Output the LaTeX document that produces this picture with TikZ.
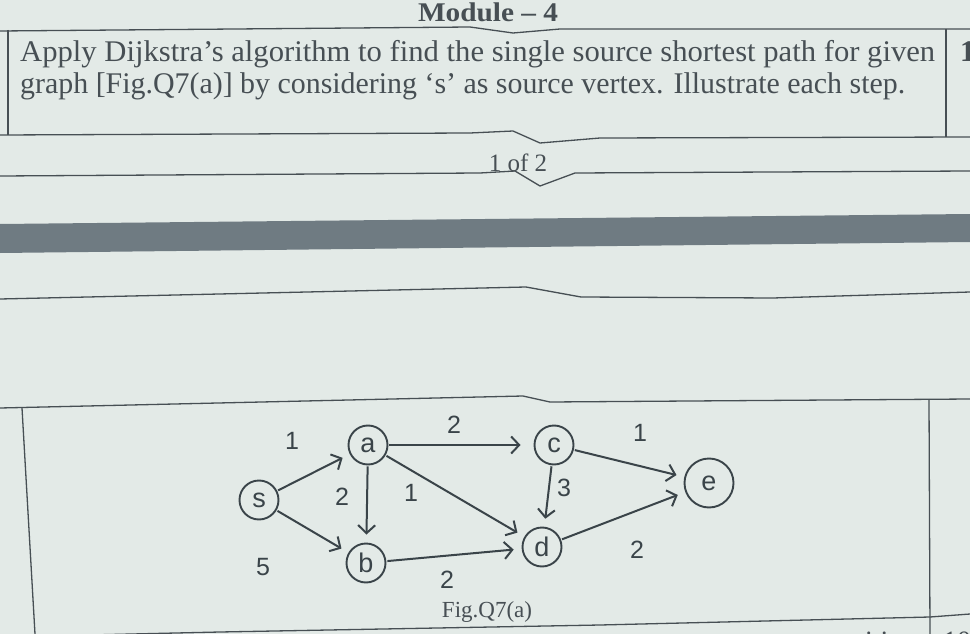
\documentclass[tikz,border=0pt]{standalone}
\usepackage{fontspec}
\setmainfont{Liberation Serif}
\newfontfamily\hand{Liberation Sans}
\usetikzlibrary{arrows.meta}
\definecolor{paper}{HTML}{E3EAE7}
\definecolor{ink}{HTML}{474F54}
\definecolor{pen}{HTML}{3A4449}
\definecolor{band}{HTML}{6F7B82}
\begin{document}
\begin{tikzpicture}[x=1pt,y=-1pt,
  rule/.style={draw=ink, line width=1.3pt},
  print/.style={text=ink, inner sep=0pt, font=\fontsize{30}{30}\selectfont},
  vtx/.style={circle, draw=pen, line width=1.9pt, minimum size=39pt, inner sep=0pt, text=pen, font=\hand\fontsize{27}{27}\selectfont},
  edge/.style={draw=pen, line width=2pt, -{Straight Barb[length=8pt,width=17pt]}, shorten >=8pt, shorten <=1pt},
  wt/.style={text=pen, inner sep=0pt, font=\hand\fontsize{25}{25}\selectfont}]
\path[use as bounding box] (0,0) rectangle (970,634);
\clip (0,0) rectangle (970,634);
\fill[paper] (0,0) rectangle (970,634);
% header
\node[print, anchor=base, font=\bfseries\fontsize{27}{27}\selectfont] (mod) at (488,22) {\resizebox{140pt}{\height}{Module – 4}};
\draw[rule] (0,31) -- (470,27) -- (513,33) -- (560,29) -- (970,29);
\draw[rule] (8,30) -- (8,135);
\draw[rule] (946,29) -- (946,137);
\node[print, anchor=base west] (l1) at (20,62) {\resizebox{915pt}{\height}{Apply Dijkstra’s algorithm to find the single source shortest path for given}};
\node[print, anchor=base west] (l2) at (20,93) {\resizebox{885pt}{\height}{graph [Fig.Q7(a)] by considering ‘s’ as source vertex. Illustrate each step.}};
\node[print, anchor=base west, font=\bfseries\fontsize{30}{30}\selectfont] (mk) at (960,62) {1};
\draw[rule] (0,135) -- (470,133) -- (513,131) -- (540,143) -- (600,138) -- (970,137);
\node[print, anchor=base, font=\fontsize{25}{25}\selectfont] (pg) at (518,171) {1 of 2};
\draw[rule] (0,176) -- (480,173) -- (515,171) -- (540,186) -- (575,173) -- (970,171);
% dark band
\fill[band] (0,224) -- (970,214) -- (970,242) -- (0,253) -- cycle;
\draw[rule] (0,299) -- (526,287) -- (581,297) -- (773,298) -- (970,292);
\draw[rule] (0,408) -- (523,396) -- (550,402) -- (970,399);
\draw[rule] (22,408) -- (35,634);
\draw[rule] (929,399) -- (930,634);
\draw[rule] (0,637) -- (220,632) -- (600,625) -- (930,617) -- (970,614);
\node[print, anchor=base east, font=\fontsize{28}{28}\selectfont] (bt) at (915,650) {ute transitive};
\node[print, anchor=base west, font=\fontsize{28}{28}\selectfont] (bn) at (943,650) {10};
% graph
\node[vtx] (s) at (259,500) {s};
\node[vtx] (a) at (368,445) {a};
\node[vtx] (b) at (366,563) {b};
\node[vtx] (c) at (554,445) {c};
\node[vtx] (d) at (542,547) {d};
\node[vtx, minimum size=49pt] (e) at (709,483) {e};
\draw[edge] (s) -- (a);
\draw[edge] (s) -- (b);
\draw[edge, shorten >=13pt] (a) -- (c);
\draw[edge] (a) -- (b);
\draw[edge] (a) -- (d);
\draw[edge] (b) -- (d);
\draw[edge] (c) -- (d);
\draw[edge] (c) -- (e);
\draw[edge] (d) -- (e);
\node[wt] (w1) at (292,441) {1};
\node[wt] (w2) at (454,425) {2};
\node[wt] (w3) at (640,433) {1};
\node[wt] (w4) at (342,497) {2};
\node[wt] (w5) at (411,493) {1};
\node[wt] (w6) at (564,488) {3};
\node[wt] (w7) at (263,567) {5};
\node[wt] (w8) at (447,580) {2};
\node[wt] (w9) at (637,550) {2};
\node[print, anchor=base, font=\fontsize{23}{23}\selectfont] (cap) at (487,617) {Fig.Q7(a)};
\end{tikzpicture}
\end{document}
